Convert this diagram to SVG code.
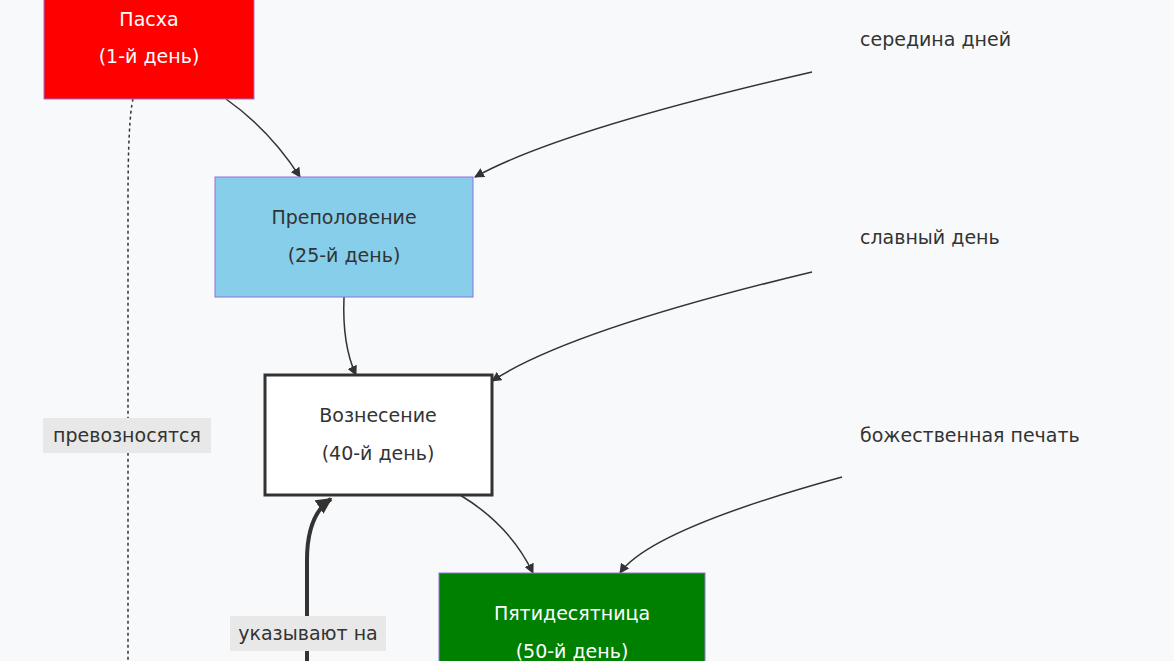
<svg xmlns="http://www.w3.org/2000/svg" width="1174" height="661" viewBox="0 0 1174 661">
<style>
text{font-family:"DejaVu Sans","Liberation Sans",sans-serif;font-size:19px;fill:#333;text-anchor:middle}
.w{fill:#fff}
.e{fill:none;stroke:#333;stroke-width:1.5}
.lbl{text-anchor:start}
</style>
<defs>
<marker id="a" viewBox="0 0 10 10" refX="9" refY="5" markerWidth="10" markerHeight="10" orient="auto-start-reverse" markerUnits="userSpaceOnUse"><path d="M0,0L10,5L0,10z" fill="#333"/></marker>
<marker id="b" viewBox="0 0 10 10" refX="9" refY="5" markerWidth="4" markerHeight="4" orient="auto"><path d="M0,0L10,5L0,10z" fill="#333"/></marker>
</defs>
<rect width="1174" height="661" fill="#f8f9fa"/>
<g id="connectors">
<path class="e" d="M226,99 Q270,130 300,177" marker-end="url(#a)"/>
<path class="e" d="M344,297 Q342,345 356,375" marker-end="url(#a)"/>
<path class="e" d="M460,495 Q510,525 533,573" marker-end="url(#a)"/>
<path class="e" d="M812,72 Q560,130 475,177" marker-end="url(#a)"/>
<path class="e" d="M812,272 Q570,330 492,381" marker-end="url(#a)"/>
<path class="e" d="M842,477 Q650,530 620,573" marker-end="url(#a)"/>
<path class="e" d="M133,99 Q128,120 128,200 L128,661" stroke-dasharray="3,3"/>
<path d="M307,661 L307,560 Q307,515 331,499" style="fill:none;stroke:#333;stroke-width:4" marker-end="url(#b)"/>
<rect x="43" y="418" width="168" height="35" fill="#e8e8e8"/>
<text x="127" y="442">превозносятся</text>
<rect x="230" y="616" width="156" height="35" fill="#e8e8e8"/>
<text x="308" y="640">указывают на</text>
<text class="lbl" x="860" y="46">середина дней</text>
<text class="lbl" x="860" y="244">славный день</text>
<text class="lbl" x="860" y="442">божественная печать</text>
</g>
<g id="pascha"><rect x="44" y="-22" width="210" height="121" fill="#f00" stroke="#9370DB"/><text class="w" x="149" y="26">Пасха</text><text class="w" x="149" y="63">(1-й день)</text></g>
<g id="prepolovenie"><rect x="215" y="177" width="258" height="120" fill="#87CEEB" stroke="#9370DB"/><text x="344" y="224">Преполовение</text><text x="344" y="262">(25-й день)</text></g>
<g id="voznesenie"><rect x="265" y="375" width="227" height="120" fill="#fff" stroke="#333" stroke-width="3"/><text x="378" y="422">Вознесение</text><text x="378" y="460">(40-й день)</text></g>
<g id="pyatidesyatnitsa"><rect x="439" y="573" width="266" height="120" fill="#008000" stroke="#9370DB"/><text class="w" x="572" y="620">Пятидесятница</text><text class="w" x="572" y="658">(50-й день)</text></g>
</svg>
